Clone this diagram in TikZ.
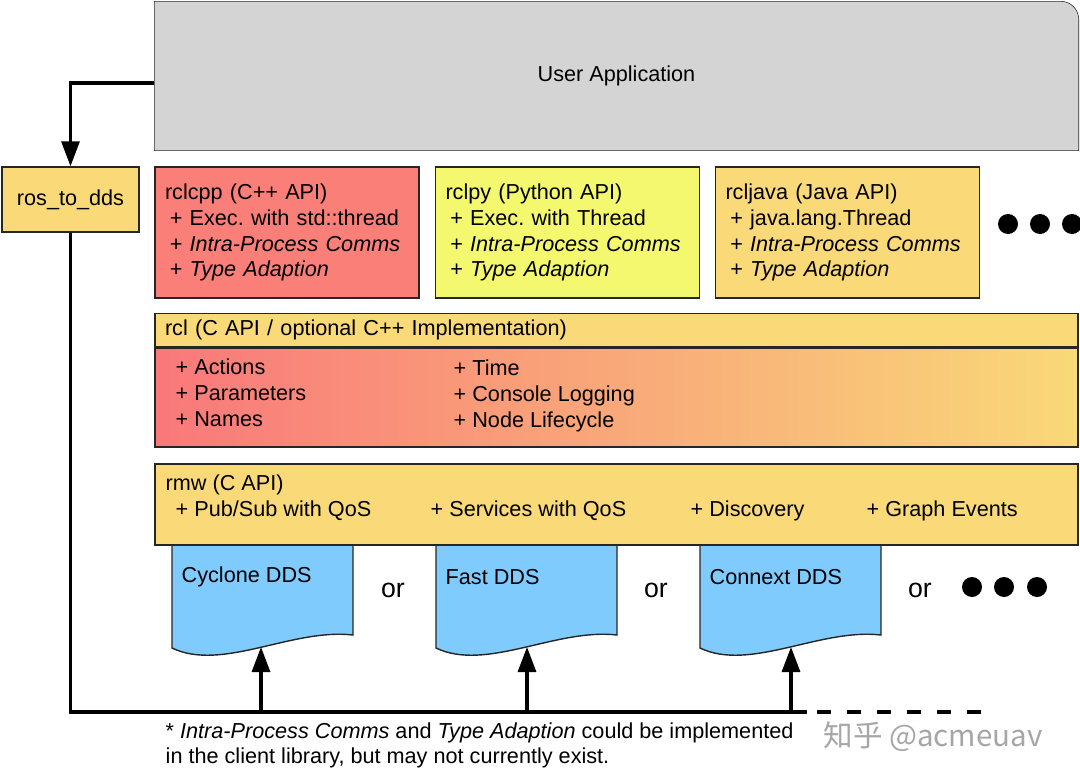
\documentclass[tikz,border=0pt]{standalone}
\usepackage{fontspec}
\setmainfont{Liberation Sans}
\newfontfamily\zhfont{Noto Sans CJK SC}
\usetikzlibrary{backgrounds}
\usetikzlibrary{arrows.meta}
\usetikzlibrary{positioning}
\definecolor{appgray}{HTML}{D4D4D4}
\definecolor{rosyellow}{HTML}{F9D978}
\definecolor{cppred}{HTML}{FB7F79}
\definecolor{pyyellow}{HTML}{F4F86F}
\definecolor{rclred}{HTML}{F9787A}
\definecolor{ddsblue}{HTML}{80CBFD}
\tikzstyle{every picture}=[line width=1pt, font=\fontsize{15.4}{18.4}\selectfont]
\tikzstyle{tier}=[rectangle, draw=black!85, inner xsep=0.25cm, inner ysep=0pt, align=left]
\tikzstyle{clientlib}=[tier, text width=6.1cm, minimum height=3.275cm]
\tikzstyle{wide}=[tier, text width=22.575cm]
\tikzstyle{item}=[anchor=west, inner sep=0pt, align=left]
\tikzstyle{flow}=[line width=2.2pt]
\tikzstyle{dds}=[draw=black!85, fill=ddsblue]
\tikzstyle{orword}=[inner sep=0pt, font=\fontsize{19}{23}\selectfont]
\newcommand{\itm}{\hspace*{0.12cm}+ }
\frenchspacing

\begin{document}
\begin{tikzpicture}[>={Triangle[length=0.625cm,width=0.45cm]}]
  \useasboundingbox (0,0) rectangle (27,19.5);

  % DDS implementations (drawn first, rmw covers their top edge)
  \filldraw[dds] (4.3,5.875) -- (4.3,3.3) .. controls (5.55,2.7) and (7.3,3.8) .. (8.825,3.625) -- (8.825,5.875) -- cycle;
  \filldraw[dds] (10.9,5.875) -- (10.9,3.3) .. controls (12.15,2.7) and (13.9,3.8) .. (15.425,3.625) -- (15.425,5.875) -- cycle;
  \filldraw[dds] (17.5,5.875) -- (17.5,3.3) .. controls (18.75,2.7) and (20.5,3.8) .. (22.025,3.625) -- (22.025,5.875) -- cycle;

  \path (15.4125,17.6) node[minimum width=23.075cm, minimum height=3.7cm] (app) {User Application}
        (1.7625,14.5125) node[tier, fill=rosyellow, minimum width=3.425cm, minimum height=1.625cm] (ros) {ros\_to\_dds}
        (7.175,13.6875) node[clientlib, fill=cppred] (rclcpp) {rclcpp (C++ API)\\\itm Exec. with std::thread\\\itm \textit{Intra-Process Comms}\\\itm \textit{Type Adaption}}
        (14.1875,13.6875) node[clientlib, fill=pyyellow] (rclpy) {rclpy (Python API)\\\itm Exec. with Thread\\\itm \textit{Intra-Process Comms}\\\itm \textit{Type Adaption}}
        (21.1875,13.6875) node[clientlib, fill=rosyellow] (rcljava) {rcljava (Java API)\\\itm java.lang.Thread\\\itm \textit{Intra-Process Comms}\\\itm \textit{Type Adaption}}
        (15.4125,9.5625) node[wide, left color=rclred, right color=rosyellow, minimum height=2.475cm] (rcl) {}
        (15.4125,6.8875) node[wide, fill=rosyellow, minimum height=2.025cm] (rmw) {};

  \node[wide, fill=rosyellow, minimum height=0.825cm, above=0pt of rcl] (rclhead) {rcl (C API / optional C++ Implementation)};

  \begin{scope}[on background layer]
    \filldraw[draw=black!85, fill=appgray] (app.south west) -- (app.north west) -- ([xshift=-0.45cm]app.north east) arc[start angle=90, end angle=0, radius=0.45cm] -- (app.south east) -- cycle;
  \end{scope}

  \path (4.375,9.675) node[item] (rcl-left) {+ Actions\\+ Parameters\\+ Names}
        (11.325,9.6) node[item] (rcl-right) {+ Time\\+ Console Logging\\+ Node Lifecycle}
        (4.125,7.375) node[item] (rmw-title) {rmw (C API)}
        (4.375,6.725) node[item] (pubsub) {+ Pub/Sub with QoS}
        (10.75,6.725) node[item] (services) {+ Services with QoS}
        (17.25,6.725) node[item] (discovery) {+ Discovery}
        (21.65,6.725) node[item] (graph) {+ Graph Events}
        (4.525,5.075) node[item] (cyclone) {Cyclone DDS}
        (11.125,5.075) node[item] (fast) {Fast DDS}
        (17.725,5.075) node[item] (connext) {Connext DDS}
        (9.825,4.75) node[orword] (or-a) {or}
        (16.4,4.75) node[orword] (or-b) {or}
        (23.0,4.75) node[orword] (or-c) {or};

  \fill (25.2,13.9) circle (0.25) (26.0,13.9) circle (0.25) (26.8,13.9) circle (0.25);
  \fill (24.3,4.825) circle (0.25) (25.1,4.825) circle (0.25) (25.925,4.825) circle (0.25);

  \coordinate (cyclone-in) at (6.525,3.325);
  \coordinate (fast-in) at (13.175,3.325);
  \coordinate (connext-in) at (19.775,3.325);
  \coordinate (bus-end) at (20.175,1.7);
  \coordinate (bus-more) at (24.55,1.7);

  \draw[flow, ->] ([yshift=-0.175cm]app.west) -| (ros.north);
  \draw[flow] (ros.south) |- (bus-end);
  \draw[flow, dash pattern=on 0.35cm off 0.4cm, dash phase=0.5cm] (bus-end) -- (bus-more);
  \draw[flow, ->] (cyclone-in |- bus-end) -- (cyclone-in);
  \draw[flow, ->] (fast-in |- bus-end) -- (fast-in);
  \draw[flow, ->] (connext-in |- bus-end) -- (connext-in);

  \node[item, font=\fontsize{15.4}{17.7}\selectfont] (note) at (4.125,0.8625) {* \textit{Intra-Process Comms} and \textit{Type Adaption} could be implemented\\in the client library, but may not currently exist.};
  \node[text=black!35, font=\zhfont\fontsize{21}{25}\selectfont] (mark) at (23.325,1.075) {知乎 @acmeuav};
\end{tikzpicture}
\end{document}
